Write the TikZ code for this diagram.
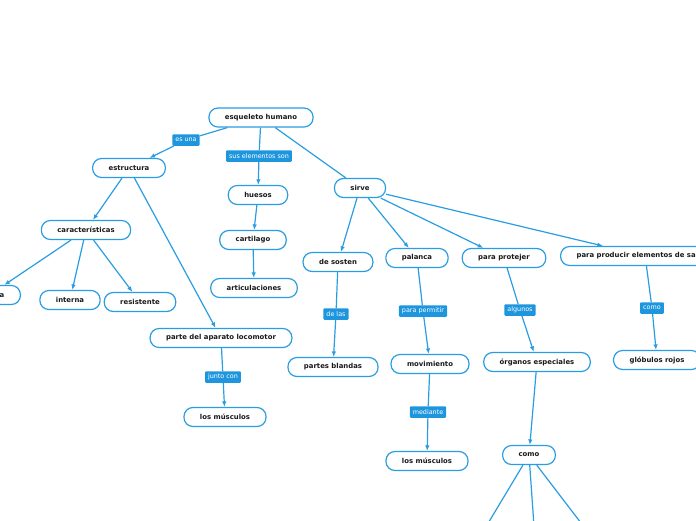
\documentclass[tikz,border=0pt]{standalone}
\usepackage{fontspec}
\setmainfont{DejaVu Sans}
\usetikzlibrary{positioning}
\usetikzlibrary{arrows.meta}
\definecolor{mapblue}{RGB}{41,157,225}
\definecolor{tagblue}{RGB}{30,150,222}
\definecolor{inkgray}{RGB}{25,25,25}

\begin{document}
\begin{tikzpicture}[x=1pt,y=-1pt,
  concept/.style={draw=mapblue, line width=1.2pt, fill=white, rounded corners=9pt, minimum height=19pt, inner xsep=16pt, inner ysep=0pt, text=inkgray, font=\fontsize{6.9}{8}\selectfont\bfseries},
  tag/.style={fill=tagblue, rounded corners=1pt, inner xsep=3pt, inner ysep=2pt, minimum height=11.5pt, text=white, font=\fontsize{6.4}{7}\selectfont},
  link/.style={mapblue, line width=1.2pt},
  arr/.style={link, -{Latex[length=5.5pt,width=4.5pt]}}]
%\draw[help lines] (0,0) grid (696,520);
\useasboundingbox (0,0) rectangle (696,520);
\clip (0,0) rectangle (696,520);

\node[concept] (esqueleto) at (261,117.5) {esqueleto humano};
\node[concept] (estructura) at (129,168) {estructura};
\node[concept] (huesos) at (258,195) {huesos};
\node[concept] (cartilago) at (253,240) {cartilago};
\node[concept] (articulaciones) at (254,288) {articulaciones};
\node[concept] (caracteristicas) at (86,230) {características};
\node[concept, anchor=east] (externa) at (21,295) {externa};
\node[concept] (interna) at (70,300) {interna};
\node[concept] (resistente) at (140,302) {resistente};
\node[concept] (locomotor) at (221,338) {parte del aparato locomotor};
\node[concept] (musculosA) at (225,417) {los músculos};
\node[concept] (sirve) at (360,188) {sirve};
\node[concept] (sosten) at (338,262) {de sosten};
\node[concept] (blandas) at (333,367) {partes blandas};
\node[concept] (palanca) at (417,258) {palanca};
\node[concept] (movimiento) at (430,364) {movimiento};
\node[concept] (musculosB) at (427,461) {los músculos};
\node[concept] (protejer) at (504,258) {para protejer};
\node[concept] (organos) at (537,362) {órganos especiales};
\node[concept] (como) at (529,455) {como};
\node[concept, anchor=west] (producir) at (560,256) {para producir elementos de sangre};
\node[concept] (globulos) at (657,360) {glóbulos rojos};

\node[tag] (esuna) at (186,140) {es una};
\node[tag] (suselementos) at (259,156) {sus elementos son};
\node[tag] (juntocon) at (223,377) {junto con};
\node[tag] (delas) at (336,314) {de las};
\node[tag] (parapermitir) at (423,311) {para permitir};
\node[tag] (mediante) at (428,412) {mediante};
\node[tag] (algunos) at (520,310) {algunos};
\node[tag] (comotag) at (652,308) {como};

\coordinate (hijoA) at (478,540);
\coordinate (hijoB) at (535,540);
\coordinate (hijoC) at (594,540);

\draw[link] (esqueleto) -- (esuna);
\draw[arr] (esuna) -- (estructura);
\draw[link] (esqueleto) -- (suselementos);
\draw[arr] (suselementos) -- (huesos);
\draw[link] (esqueleto) -- (sirve);
\draw[arr] (estructura) -- (caracteristicas);
\draw[arr] (estructura) -- (locomotor);
\draw[arr] (caracteristicas) -- (externa);
\draw[arr] (caracteristicas) -- (interna);
\draw[arr] (caracteristicas) -- (resistente);
\draw[link] (locomotor) -- (juntocon);
\draw[arr] (juntocon) -- (musculosA);
\draw[arr] (huesos) -- (cartilago);
\draw[arr] (cartilago) -- (articulaciones);
\draw[arr] (sirve) -- (sosten);
\draw[arr] (sirve) -- (palanca);
\draw[arr] (sirve) -- (protejer);
\draw[arr] (sirve) -- (producir);
\draw[link] (sosten) -- (delas);
\draw[arr] (delas) -- (blandas);
\draw[link] (palanca) -- (parapermitir);
\draw[arr] (parapermitir) -- (movimiento);
\draw[link] (movimiento) -- (mediante);
\draw[arr] (mediante) -- (musculosB);
\draw[link] (protejer) -- (algunos);
\draw[arr] (algunos) -- (organos);
\draw[arr] (organos) -- (como);
\draw[link] (producir) -- (comotag);
\draw[arr] (comotag) -- (globulos);
\draw[arr] (como) -- (hijoA);
\draw[arr] (como) -- (hijoB);
\draw[arr] (como) -- (hijoC);

\end{tikzpicture}
\end{document}
